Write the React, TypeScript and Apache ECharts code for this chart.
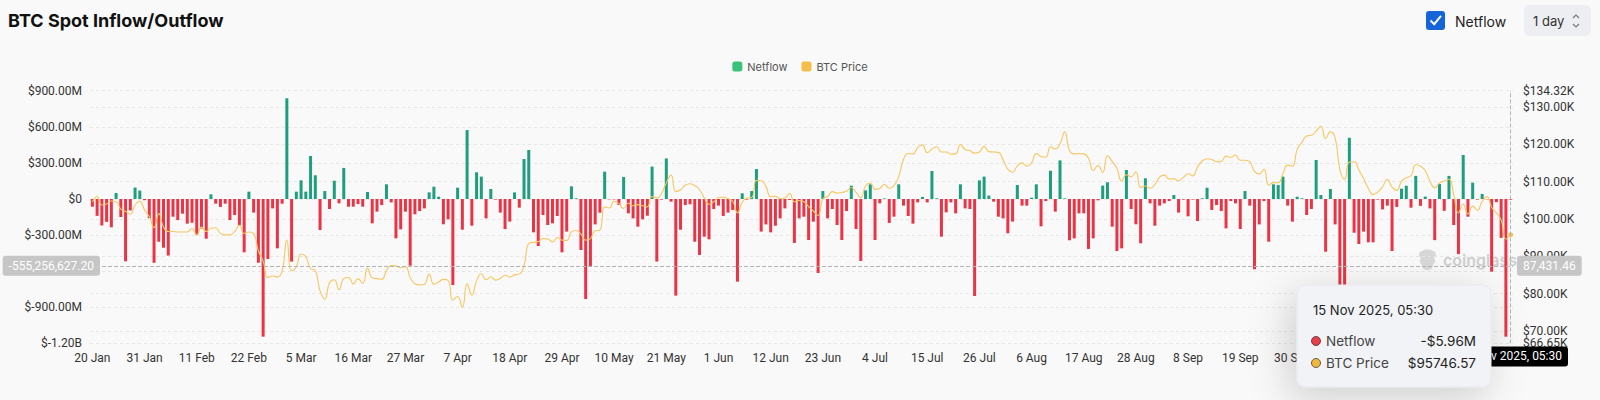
import React, { useEffect, useRef } from 'react';
import * as echarts from 'echarts';

// ---------- data ----------
const startDateUTC = Date.UTC(2025, 0, 20);
const monthNames = ['Jan', 'Feb', 'Mar', 'Apr', 'May', 'Jun', 'Jul', 'Aug', 'Sep', 'Oct', 'Nov', 'Dec'];

// daily netflow, in millions of USD (20 Jan 2025 .. 15 Nov 2025)
const netflowM: number[] = [
  -64, -140, -220, -190, -235, 50, -150, -518, -95, 95,
  70, -10, -160, -530, -355, -405, -470, -147, -175, -122,
  -205, -197, -300, -245, -330, 39, -39, -66, -39, -175,
  -133, -216, -443, 61, -113, -530, -1144, -499, -78, -410,
  -39, 837, -520, 61, 155, 61, 357, 197, -258, 66,
  -83, 152, -36, 258, -64, -64, -42, -64, 58, -202,
  -105, -50, 122, -28, -327, -252, -105, -554, -127, -100,
  -78, 55, 102, 19, -210, -169, -715, 94, -255, 573,
  -222, 222, 186, -161, 83, -5, -113, -250, -188, 55,
  -72, 332, 407, -277, -391, -133, -216, -202, -141, -443,
  -271, 105, 6, -424, -831, -557, -211, -114, 227, -3,
  -3, -50, 183, -119, -161, -230, -169, -139, 269, -520,
  -5, 337, -22, -803, -255, -50, -44, -355, -465, -313,
  -335, -83, -55, -141, -113, -91, -687, 47, -5, 66,
  249, -271, -211, -277, -222, -161, -78, -8, -365, -161,
  -147, -341, -188, -615, 66, -161, -83, -216, -341, -100,
  111, -249, -515, 72, 122, -341, -36, 5, -199, -147,
  122, -55, -141, -205, -28, 17, -28, 233, 6, -313,
  -111, -28, -119, 122, -78, -83, -806, 155, 186, 28,
  -22, -147, -161, -285, -188, 116, -55, -55, 11, 122,
  -227, -17, 235, -105, 321, 5, -343, -327, -119, -119,
  -415, -327, -11, 111, 139, -230, -432, -410, 241, -83,
  -210, -368, 172, -36, -222, -55, -36, -17, 33, -113,
  -5, -144, -5, -183, 6, 94, -91, -50, -100, -244,
  -17, -36, -249, 66, -55, -584, -211, -17, -355, 122,
  116, 186, -55, -188, 19, 6, -133, -83, 324, 33,
  -438, 83, -211, -780, -740, 509, -280, -374, -271, -360,
  -360, -5, -86, -55, -432, -66, 86, 110, -72, 192,
  -57, 20, -78, -342, 124, -98, 192, -216, -458, 366,
  -147, 136, -5, 42, -3, -604, -26, -323, -1144, -5.96,
];

// daily BTC price, in thousands of USD
const btcPriceK: number[] = [
  // Jan
  104.5, 106.0, 103.7, 104.0, 104.8, 104.6, 102.6, 102.0, 101.3, 103.7, 104.7, 102.4,
  // Feb
  100.6, 97.7, 101.4, 97.8, 96.6, 96.6, 96.5, 96.5, 96.5, 97.4, 95.7, 97.8, 96.6, 97.5,
  97.6, 96.1, 95.7, 95.7, 96.6, 98.3, 96.1, 96.5, 96.1, 91.4, 88.7, 84.3, 84.7, 84.4,
  // Mar
  86.0, 94.3, 86.1, 87.2, 90.6, 89.9, 86.7, 86.2, 80.7, 78.5, 82.9, 83.7, 81.0, 84.0, 84.3,
  82.6, 84.0, 82.7, 86.8, 84.2, 84.0, 83.8, 86.1, 87.5, 87.4, 86.9, 87.2, 84.3, 82.6, 82.3, 82.5,
  // Apr
  85.2, 82.5, 83.1, 83.8, 83.5, 78.2, 79.2, 76.3, 82.6, 79.6, 83.4, 85.3, 83.7, 84.5, 83.6,
  84.0, 84.9, 84.4, 85.0, 85.2, 87.5, 93.4, 93.7, 93.9, 94.7, 94.6, 93.8, 95.0, 94.3, 94.2,
  // May
  96.5, 96.9, 95.9, 94.3, 94.7, 96.8, 97.0, 103.2, 102.9, 104.7, 104.1, 102.8, 104.2, 103.5, 103.8,
  103.5, 103.2, 106.0, 105.6, 106.8, 109.7, 111.7, 107.3, 107.8, 109.0, 109.4, 108.9, 107.8, 105.6, 103.9, 104.6,
  // Jun
  105.7, 105.8, 105.4, 104.7, 101.6, 104.4, 105.6, 105.7, 110.3, 110.2, 108.7, 105.9, 106.1, 105.4, 105.6,
  106.8, 104.6, 104.9, 104.6, 103.3, 102.1, 100.9, 105.4, 106.0, 107.3, 106.9, 107.1, 107.4, 108.4, 107.1,
  // Jul
  105.7, 108.8, 109.6, 107.9, 108.2, 109.2, 108.2, 108.9, 111.3, 115.9, 117.5, 117.4, 119.1, 119.8, 117.7,
  118.7, 119.3, 117.9, 117.9, 117.3, 117.4, 119.9, 118.6, 118.3, 117.6, 117.9, 119.4, 118.0, 117.9, 117.8, 115.8,
  // Aug
  113.3, 112.5, 114.2, 115.0, 114.1, 115.0, 117.5, 116.7, 116.5, 119.3, 118.7, 120.1, 123.3, 118.3, 117.4,
  117.5, 117.4, 116.3, 112.9, 114.3, 112.4, 116.9, 115.4, 113.5, 110.1, 111.8, 111.3, 112.6, 108.4, 108.8, 108.2,
  // Sep
  109.2, 111.2, 111.7, 110.7, 110.7, 110.2, 111.1, 112.1, 111.5, 113.9, 115.5, 116.1, 115.9, 115.3, 115.4,
  116.8, 116.5, 117.1, 115.7, 115.7, 115.3, 112.7, 112.0, 113.3, 109.0, 109.7, 109.7, 112.1, 114.4, 114.1,
  // Oct
  118.6, 120.5, 122.2, 122.4, 123.5, 124.8, 121.5, 123.3, 121.7, 113.2, 110.6, 115.2, 115.3, 113.1, 110.8,
  108.2, 106.5, 107.2, 108.6, 110.6, 108.5, 107.6, 110.1, 111.0, 111.6, 114.5, 114.1, 112.9, 110.1, 108.3, 109.6,
  // Nov
  110.1, 110.6, 106.5, 101.6, 103.9, 101.3, 103.4, 102.3, 104.7, 105.9, 103.1, 101.6, 99.7, 94.6, 95.74657,
];

const leftAxisMin = -1.2e9;
const leftAxisMax = 9e8;
const leftAxisInterval = 3e8;
const leftHiddenTick = -6e8; // covered by the crosshair label in the reference
const rightAxisMin = 66650;
const rightAxisMax = 134320;
const rightLabelValues = [66650, 70000, 80000, 90000, 100000, 110000, 120000, 130000, 134320];
const rightGridValues = [70000, 80000, 90000, 100000, 110000, 120000, 130000];
const lastVisibleDateLabel = 253; // later date labels sit under the tooltip

const pointerTime = '15 Nov 2025, 05:30';
const pointerNetflow = -555256627.2;
const pointerPrice = 87431.46;
const tooltipRows = [
  { name: 'Netflow', value: '-$5.96M', color: '#e8404a' },
  { name: 'BTC Price', value: '$95746.57', color: '#f0b93e' },
];

// ---------- styles ----------
const GREEN = '#1e9e7c';
const RED = '#ea3445';
const LEGEND_GREEN = '#3bc27a';
const GOLD = '#f3bf4a';
const LINE_GOLD = '#f6c760';
const GRID_COLOR = '#e6e6e6';
const AXIS_FONT = 'Roboto, "Noto Sans", sans-serif';
const UI_FONT = 'Inter, Roboto, sans-serif';

const LOGO_D =
  'M4 1 C7 -1 13 -1 16 1 C19 2 20 5 18 7 L17 9 C19 11 18 14 16 15 L15 19 C12 22 8 22 5 19 L4 15 C2 14 1 11 3 9 L2 7 C0 5 1 2 4 1 Z';

const categories = netflowM.map((_, i) => {
  const d = new Date(startDateUTC + i * 86400000);
  return `${d.getUTCDate()} ${monthNames[d.getUTCMonth()]}`;
});

const fmtLeft = (v: number) =>
  v === leftHiddenTick
    ? ''
    : v === 0
    ? '$0'
    : Math.abs(v) >= 1e9
    ? `$${(v / 1e9).toFixed(2)}B`
    : `$${(v / 1e6).toFixed(2)}M`;
const fmtRight = (v: number) => `$${(v / 1000).toFixed(2)}K`;
const fmtPlain = (v: number) =>
  Number(v).toLocaleString('en-US', { minimumFractionDigits: 2, maximumFractionDigits: 2 });

function buildOption(): any {
  const lastIdx = categories.length - 1;
  const barData = netflowM.map((v) => ({
    value: v * 1e6,
    itemStyle: { color: v >= 0 ? GREEN : RED },
  }));
  const lineData = btcPriceK.map((v, i) =>
    i === lastIdx
      ? { value: v * 1000, symbol: 'circle', symbolSize: 6, itemStyle: { color: GOLD, borderColor: '#fff', borderWidth: 1 } }
      : { value: v * 1000 }
  );

  const tooltipX = 1297;
  const tooltipY = 285;
  const graphicEls: any[] = [
    // title
    {
      type: 'text', left: 8, top: 11, z: 10,
      style: { text: 'BTC Spot Inflow/Outflow', fill: '#111', font: `700 18px ${UI_FONT}` },
    },
    // checkbox
    { type: 'rect', shape: { x: 1426, y: 11, width: 19, height: 19, r: 3 }, style: { fill: '#1565d8' }, z: 10 },
    {
      type: 'polyline', shape: { points: [[1430.5, 20.5], [1434.2, 24.2], [1441, 15.8]] },
      style: { stroke: '#fff', lineWidth: 2, fill: null }, z: 11,
    },
    {
      type: 'text', x: 1455, y: 21, z: 10,
      style: { text: 'Netflow', fill: '#222', font: `400 14px ${UI_FONT}`, verticalAlign: 'middle' },
    },
    // interval selector
    { type: 'rect', shape: { x: 1524, y: 5, width: 67, height: 31, r: 6 }, style: { fill: '#eceef1' }, z: 10 },
    {
      type: 'text', x: 1533, y: 21, z: 11,
      style: { text: '1 day', fill: '#333', font: `400 13px ${UI_FONT}`, verticalAlign: 'middle' },
    },
    {
      type: 'polyline', shape: { points: [[1573, 18], [1576, 15], [1579, 18]] },
      style: { stroke: '#777', lineWidth: 1.2, fill: null }, z: 11,
    },
    {
      type: 'polyline', shape: { points: [[1573, 24], [1576, 27], [1579, 24]] },
      style: { stroke: '#777', lineWidth: 1.2, fill: null }, z: 11,
    },
    // watermark
    {
      type: 'logo', x: 1418, y: 250, scaleX: 0.95, scaleY: 0.95, z: 0,
      style: { fill: '#d8d8d8' },
    },
    {
      type: 'text', x: 1443, y: 260, z: 0,
      style: { text: 'coinglass', fill: '#cfcfcf', font: `600 16px ${UI_FONT}`, verticalAlign: 'middle' },
    },
    // tooltip box
    {
      type: 'rect', z: 100,
      shape: { x: tooltipX, y: tooltipY, width: 194, height: 102, r: 8 },
      style: {
        fill: '#f2f3f6', stroke: '#e6e7eb', lineWidth: 1,
        shadowBlur: 40, shadowColor: 'rgba(0,0,0,0.18)', shadowOffsetX: -6, shadowOffsetY: 10,
      },
    },
    {
      type: 'text', x: tooltipX + 16, y: 310, z: 101,
      style: { text: pointerTime, fill: '#222', font: `400 13px ${UI_FONT}`, verticalAlign: 'middle' },
    },
  ];
  tooltipRows.forEach((row, k) => {
    const cy = 341 + k * 22;
    graphicEls.push(
      {
        type: 'circle', z: 101, shape: { cx: tooltipX + 19, cy, r: 4.5 },
        style: { fill: row.color, stroke: 'rgba(0,0,0,0.55)', lineWidth: 1 },
      },
      {
        type: 'text', x: tooltipX + 29, y: cy, z: 101,
        style: { text: row.name, fill: '#444', font: `400 13.5px ${UI_FONT}`, verticalAlign: 'middle' },
      },
      {
        type: 'text', x: tooltipX + 179, y: cy, z: 101,
        style: { text: row.value, fill: '#222', font: `400 13.5px ${UI_FONT}`, verticalAlign: 'middle', align: 'right' },
      }
    );
  });

  const pointerLine = { color: '#b5b5b5', type: 'dashed', width: 1 };

  return {
    animation: false,
    backgroundColor: '#f9f9f9',
    legend: {
      top: 56, left: 'center', itemWidth: 10, itemHeight: 10, itemGap: 14, icon: 'roundRect',
      textStyle: { color: '#555', fontSize: 11, fontFamily: UI_FONT },
      data: ['Netflow', 'BTC Price'],
    },
    grid: { left: 90, right: 87, top: 90.7, bottom: 56.6, containLabel: false },
    xAxis: {
      type: 'category', data: categories, boundaryGap: true,
      axisLine: { show: false }, axisTick: { show: false }, splitLine: { show: false },
      axisLabel: {
        interval: 10, color: '#333', fontSize: 12, margin: 9, fontFamily: AXIS_FONT,
        formatter: (val: string, idx: number) => (idx > lastVisibleDateLabel ? '' : val),
      },
      axisPointer: {
        show: true, type: 'line', value: lastIdx, status: 'show', snap: false, triggerTooltip: false,
        lineStyle: pointerLine,
        label: {
          show: true, formatter: () => pointerTime, backgroundColor: '#000', color: '#fff',
          fontSize: 12, fontFamily: AXIS_FONT, padding: [4, 6], borderRadius: 3, margin: 3,
        },
      },
    },
    yAxis: [
      {
        type: 'value', position: 'left', min: leftAxisMin, max: leftAxisMax, interval: leftAxisInterval,
        axisLine: { show: false }, axisTick: { show: false },
        splitLine: { show: true, lineStyle: { color: GRID_COLOR, type: [3, 3] } },
        axisLabel: { formatter: fmtLeft, color: '#333', fontSize: 12, margin: 8, fontFamily: AXIS_FONT },
        axisPointer: {
          show: true, type: 'line', value: pointerNetflow, status: 'show', snap: false, triggerTooltip: false,
          lineStyle: pointerLine,
          label: {
            show: true, formatter: (p: any) => fmtPlain(p.value), backgroundColor: '#c6c6c6', color: '#fff',
            fontSize: 12, fontFamily: AXIS_FONT, padding: [4, 6], borderRadius: 3, margin: -10,
          },
        },
      },
      {
        type: 'value', position: 'right', min: rightAxisMin, max: rightAxisMax,
        axisLine: { show: false },
        axisTick: { show: false, customValues: rightGridValues },
        splitLine: { show: true, lineStyle: { color: GRID_COLOR, type: [3, 3] } },
        axisLabel: {
          customValues: rightLabelValues, formatter: fmtRight, color: '#333', fontSize: 12, margin: 10,
          fontFamily: AXIS_FONT,
        },
        axisPointer: {
          show: true, type: 'line', value: pointerPrice, status: 'show', snap: false, triggerTooltip: false,
          lineStyle: pointerLine,
          label: {
            show: true, formatter: (p: any) => fmtPlain(p.value), backgroundColor: '#c6c6c6', color: '#fff',
            fontSize: 12, fontFamily: AXIS_FONT, padding: [4, 6], borderRadius: 3, margin: 4,
          },
        },
      },
    ],
    series: [
      {
        name: 'Netflow', type: 'bar', yAxisIndex: 0, barWidth: 3,
        itemStyle: { color: LEGEND_GREEN }, data: barData,
      },
      {
        name: 'BTC Price', type: 'line', yAxisIndex: 1, smooth: true, symbol: 'none', showSymbol: true,
        showAllSymbol: true, itemStyle: { color: GOLD }, lineStyle: { color: LINE_GOLD, width: 1.1 },
        data: lineData,
      },
    ],
    graphic: { elements: graphicEls },
  };
}

export default function App() {
  const ref = useRef<HTMLDivElement>(null);
  useEffect(() => {
    if (!ref.current) return;
    try {
      echarts.graphic.registerShape('logo', echarts.graphic.extendPath(LOGO_D, {}));
    } catch (e) {
      /* already registered */
    }
    const chart = echarts.init(ref.current, null, { renderer: 'svg' });
    chart.setOption(buildOption());
    return () => chart.dispose();
  }, []);
  return (
    <div
      ref={ref}
      style={{ position: 'absolute', left: 0, top: 0, width: 1600, height: 400 }}
    />
  );
}
